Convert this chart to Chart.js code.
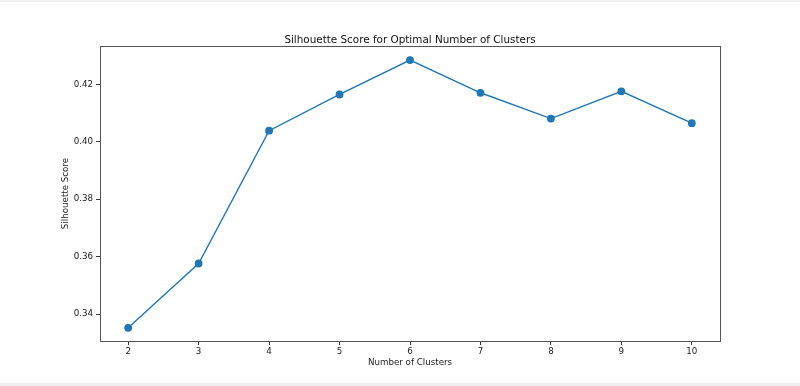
<!DOCTYPE html>
<html>
<head>
<meta charset="utf-8">
<script src="https://cdn.jsdelivr.net/npm/chart.js@4/dist/chart.umd.min.js"></script>
<style>
html,body{margin:0;padding:0;background:#fff;}
#wrap{width:800px;height:386px;position:relative;}
#ttl{position:absolute;left:100px;width:620px;top:32px;height:14px;line-height:14px;text-align:center;
  font-family:'DejaVu Sans',sans-serif;font-size:10.4px;color:#111;}
</style>
</head>
<body>
<div id="wrap"><canvas id="c" width="800" height="386"></canvas><div id="ttl">Silhouette Score for Optimal Number of Clusters</div></div>
<script>
const clusters = [2, 3, 4, 5, 6, 7, 8, 9, 10];
const scores = [0.3352, 0.3576, 0.4039, 0.4165, 0.4285, 0.4171, 0.4081, 0.4176, 0.4065];
const yTicks = [0.34, 0.36, 0.38, 0.40, 0.42];
const xTicks = [2, 3, 4, 5, 6, 7, 8, 9, 10];

const FONT = "'DejaVu Sans', sans-serif";
Chart.defaults.font.family = FONT;
Chart.defaults.color = '#222';

const frame = {
  id: 'frame',
  beforeDraw(chart) {
    const ctx = chart.ctx;
    ctx.save();
    ctx.fillStyle = '#ffffff';
    ctx.fillRect(0, 0, chart.width, chart.height);
    ctx.fillStyle = '#f1f1f1';
    ctx.fillRect(0, 0, chart.width, 2);
    ctx.fillStyle = '#efefef';
    ctx.fillRect(0, 383, chart.width, 3);
    ctx.restore();
  },
  afterDatasetsDraw(chart) {
    const a = chart.chartArea, ctx = chart.ctx;
    ctx.save();
    ctx.strokeStyle = '#555';
    ctx.lineWidth = 1;
    ctx.strokeRect(Math.round(a.left) + 0.5, Math.round(a.top) + 0.5,
                   Math.round(a.right - a.left), Math.round(a.bottom - a.top));
    ctx.restore();
  }
};

new Chart(document.getElementById('c'), {
  type: 'scatter',
  data: {
    datasets: [{
      data: clusters.map((c, i) => ({x: c, y: scores[i]})),
      showLine: true,
      borderColor: '#1f77b4',
      backgroundColor: '#1f77b4',
      borderWidth: 1.4,
      pointRadius: 3.2,
      pointHoverRadius: 3.2,
      tension: 0
    }]
  },
  options: {
    responsive: false,
    animation: false,
    devicePixelRatio: 1,
    layout: {padding: {left: 61, right: 80, top: 46, bottom: 18}},
    plugins: {
      legend: {display: false},
      tooltip: {enabled: false},
      title: {display: false}
    },
    scales: {
      x: {
        type: 'linear',
        min: 1.6,
        max: 10.4,
        afterFit(s) { s.height = 27; },
        afterBuildTicks(s) { s.ticks = xTicks.map(v => ({value: v})); },
        grid: {drawOnChartArea: false, tickLength: 4, tickColor: '#333'},
        border: {display: false},
        ticks: {font: {size: 8.7}, padding: 2, maxRotation: 0, callback: v => String(v)},
        title: {display: true, text: 'Number of Clusters', font: {size: 8.7}, padding: {top: 0, bottom: 0}}
      },
      y: {
        type: 'linear',
        min: 0.3306,
        max: 0.4334,
        afterFit(s) { s.width = 39; },
        afterBuildTicks(s) { s.ticks = yTicks.map(v => ({value: v})); },
        grid: {drawOnChartArea: false, tickLength: 4, tickColor: '#333'},
        border: {display: false},
        ticks: {font: {size: 8.7}, padding: 3, callback: v => v.toFixed(2)},
        title: {display: true, text: 'Silhouette Score', font: {size: 8.7}, padding: {top: 0, bottom: 0}}
      }
    }
  },
  plugins: [frame]
});
</script>
</body>
</html>
